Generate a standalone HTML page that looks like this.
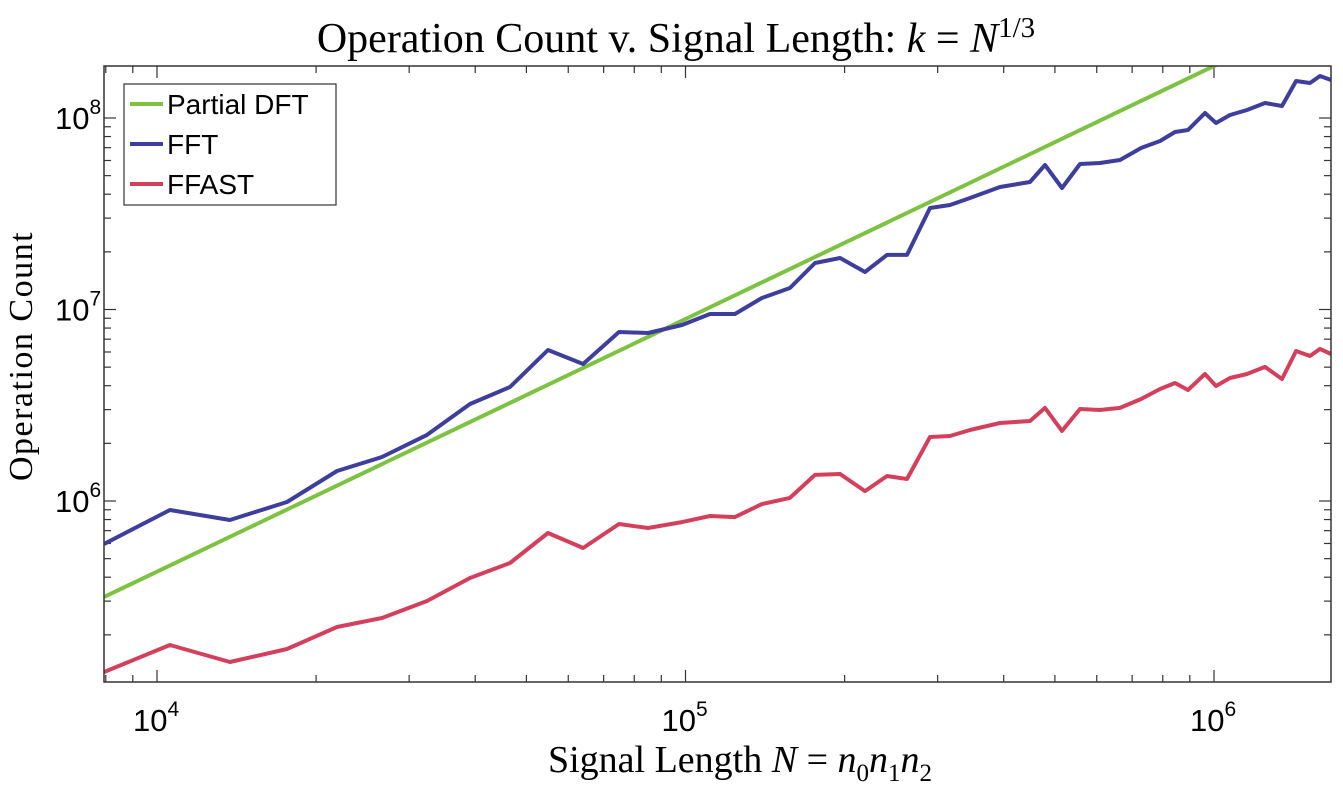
<!DOCTYPE html>
<html><head><meta charset="utf-8"><style>
body{margin:0;background:#fff;width:1343px;height:788px;overflow:hidden}
svg{display:block}
</style></head><body>
<svg id="chart" width="1343" height="788" xmlns="http://www.w3.org/2000/svg">
<text x="676" y="52" text-anchor="middle" font-family="Liberation Serif, serif" font-size="42" fill="#000">Operation Count v. Signal Length:   <tspan font-style="italic">k</tspan> = <tspan font-style="italic">N</tspan><tspan dy="-15" font-size="29">1/3</tspan></text>
<text transform="translate(32,356) rotate(-90)" text-anchor="middle" font-family="Liberation Serif, serif" font-size="34" letter-spacing="1.5" fill="#000">Operation Count</text>
<text x="740" y="772" text-anchor="middle" font-family="Liberation Serif, serif" font-size="38" fill="#000">Signal Length <tspan font-style="italic">N</tspan> = <tspan font-style="italic">n</tspan><tspan dy="9" font-size="25">0</tspan><tspan dy="-9" font-style="italic">n</tspan><tspan dy="9" font-size="25">1</tspan><tspan dy="-9" font-style="italic">n</tspan><tspan dy="9" font-size="25">2</tspan></text>
<g id="plot"></g>
</svg>
<script>
const fftN=[7940,10580,13740,17620,21910,26650,32430,39100,46550,54930,64000,74850,84930,98470,111250,124040,139500,157600,175800,196100,218600,240600,262500,290100,316600,345400,393600,448600,478800,515700,557800,608400,663900,727800,790600,843900,892900,961600,1008800,1072200,1154700,1249000,1345000,1429900,1519000,1587000,1665000];
const fftOps=[596400,897000,796000,988000,1435000,1698000,2213000,3210000,3936000,6146000,5194000,7628000,7540000,8300000,9475000,9475000,11480000,12950000,17490000,18580000,15700000,19270000,19270000,33880000,35140000,38200000,43620000,46330000,56850000,43100000,57530000,58210000,60360000,69700000,75860000,84520000,86570000,106200000,94170000,103700000,110100000,119800000,115500000,156100000,152300000,165700000,157900000];
const ffastOps=[127900,177000,144300,168700,219800,244900,300600,396300,474300,680800,568500,758600,722800,776200,835300,824100,963900,1038000,1368000,1384000,1127000,1350000,1303000,2158000,2184000,2349000,2553000,2618000,3062000,2322000,3024000,2988000,3062000,3409000,3846000,4131000,3800000,4603000,3988000,4387000,4603000,5012000,4335000,6073000,5718000,6223000,5859000];
const dftN=[7940,10000,100000,1000000,1665000];
const dftOps=[315500,427600,8920000,186800000,368600000];
const xTickVals=[10000,100000,1000000];
const xTickExp=["4","5","6"];
const yTickVals=[1000000,10000000,100000000];
const yTickExp=["6","7","8"];

const L=104,R=1331,T=66,B=682;
const X0=4, XD=528.5, X0px=157, Y0=8, YD=191.5, Y0px=118;
function xs(v){return X0px+(Math.log10(v)-X0)*XD;}
function ys(v){return Y0px-(Math.log10(v)-Y0)*YD;}
const NS="http://www.w3.org/2000/svg";
const plot=document.getElementById('plot');
function mk(tag,attrs,parent){const e=document.createElementNS(NS,tag);for(const k in attrs)e.setAttribute(k,attrs[k]);(parent||plot).appendChild(e);return e;}

const defs=mk('defs',{});
const cp=mk('clipPath',{id:'clip'},defs);
mk('rect',{x:L,y:T,width:R-L,height:B-T},cp);

const tg=mk('g',{stroke:'#333','stroke-width':1.2});


const xmin=Math.pow(10,X0+(L-X0px)/XD), xmax=Math.pow(10,X0+(R-X0px)/XD);
for(let d=3;d<=6;d++){for(let m=1;m<=9;m++){const v=m*Math.pow(10,d);if(v<xmin||v>xmax)continue;const x=xs(v),len=m===1?12:7;
mk('line',{x1:x,x2:x,y1:B,y2:B-len},tg);mk('line',{x1:x,x2:x,y1:T,y2:T+len},tg);}}
const ymin=Math.pow(10,Y0-(B-Y0px)/YD), ymax=Math.pow(10,Y0-(T-Y0px)/YD);
for(let d=5;d<=8;d++){for(let m=1;m<=9;m++){const v=m*Math.pow(10,d);if(v<ymin||v>ymax)continue;const y=ys(v),len=m===1?12:7;
mk('line',{x1:L,x2:L+len,y1:y,y2:y},tg);mk('line',{x1:R,x2:R-len,y1:y,y2:y},tg);}}

xTickVals.forEach((v,i)=>{const t=mk('text',{x:xs(v)-24,y:731,'font-family':'Liberation Sans, sans-serif','font-size':31,fill:'#000'});


t.innerHTML='10<tspan dy="-15" font-size="21">'+xTickExp[i]+'</tspan>';});
yTickVals.forEach((v,i)=>{const t=mk('text',{x:55,y:ys(v)+11,'font-family':'Liberation Sans, sans-serif','font-size':31,fill:'#000'});


t.innerHTML='10<tspan dy="-15" font-size="21">'+yTickExp[i]+'</tspan>';});

function line(nArr,vArr,color,name){const p=mk('polyline',{points:nArr.map((n,i)=>xs(n).toFixed(1)+','+ys(vArr[i]).toFixed(1)).join(' '),fill:'none',stroke:color,'stroke-width':4,'stroke-linejoin':'round','clip-path':'url(#clip)'});

}
line(dftN,dftOps,'#7dc242','partial-dft-line');
line(fftN,fftOps,'#3e3e9c','fft-line');
line(fftN,ffastOps,'#d3405c','ffast-line');

const frame=mk('rect',{x:L,y:T,width:R-L,height:B-T,fill:'none',stroke:'#333','stroke-width':1.5});



const lg=mk('g',{});


mk('rect',{x:124,y:84,width:212,height:121,fill:'#fff',stroke:'#333','stroke-width':1.2},lg);
const legNames=['Partial DFT','FFT','FFAST'];
const legColors=['#7dc242','#3e3e9c','#d3405c'];
legNames.forEach((nm,i)=>{const y=104+i*40;const g=mk('g',{},lg);


mk('line',{x1:130,x2:163,y1:y,y2:y,stroke:legColors[i],'stroke-width':4},g);
const t=mk('text',{x:167,y:y+10,'font-family':'Liberation Sans, sans-serif','font-size':28,fill:'#000'},g);t.textContent=nm;});
</script>
</body></html>
